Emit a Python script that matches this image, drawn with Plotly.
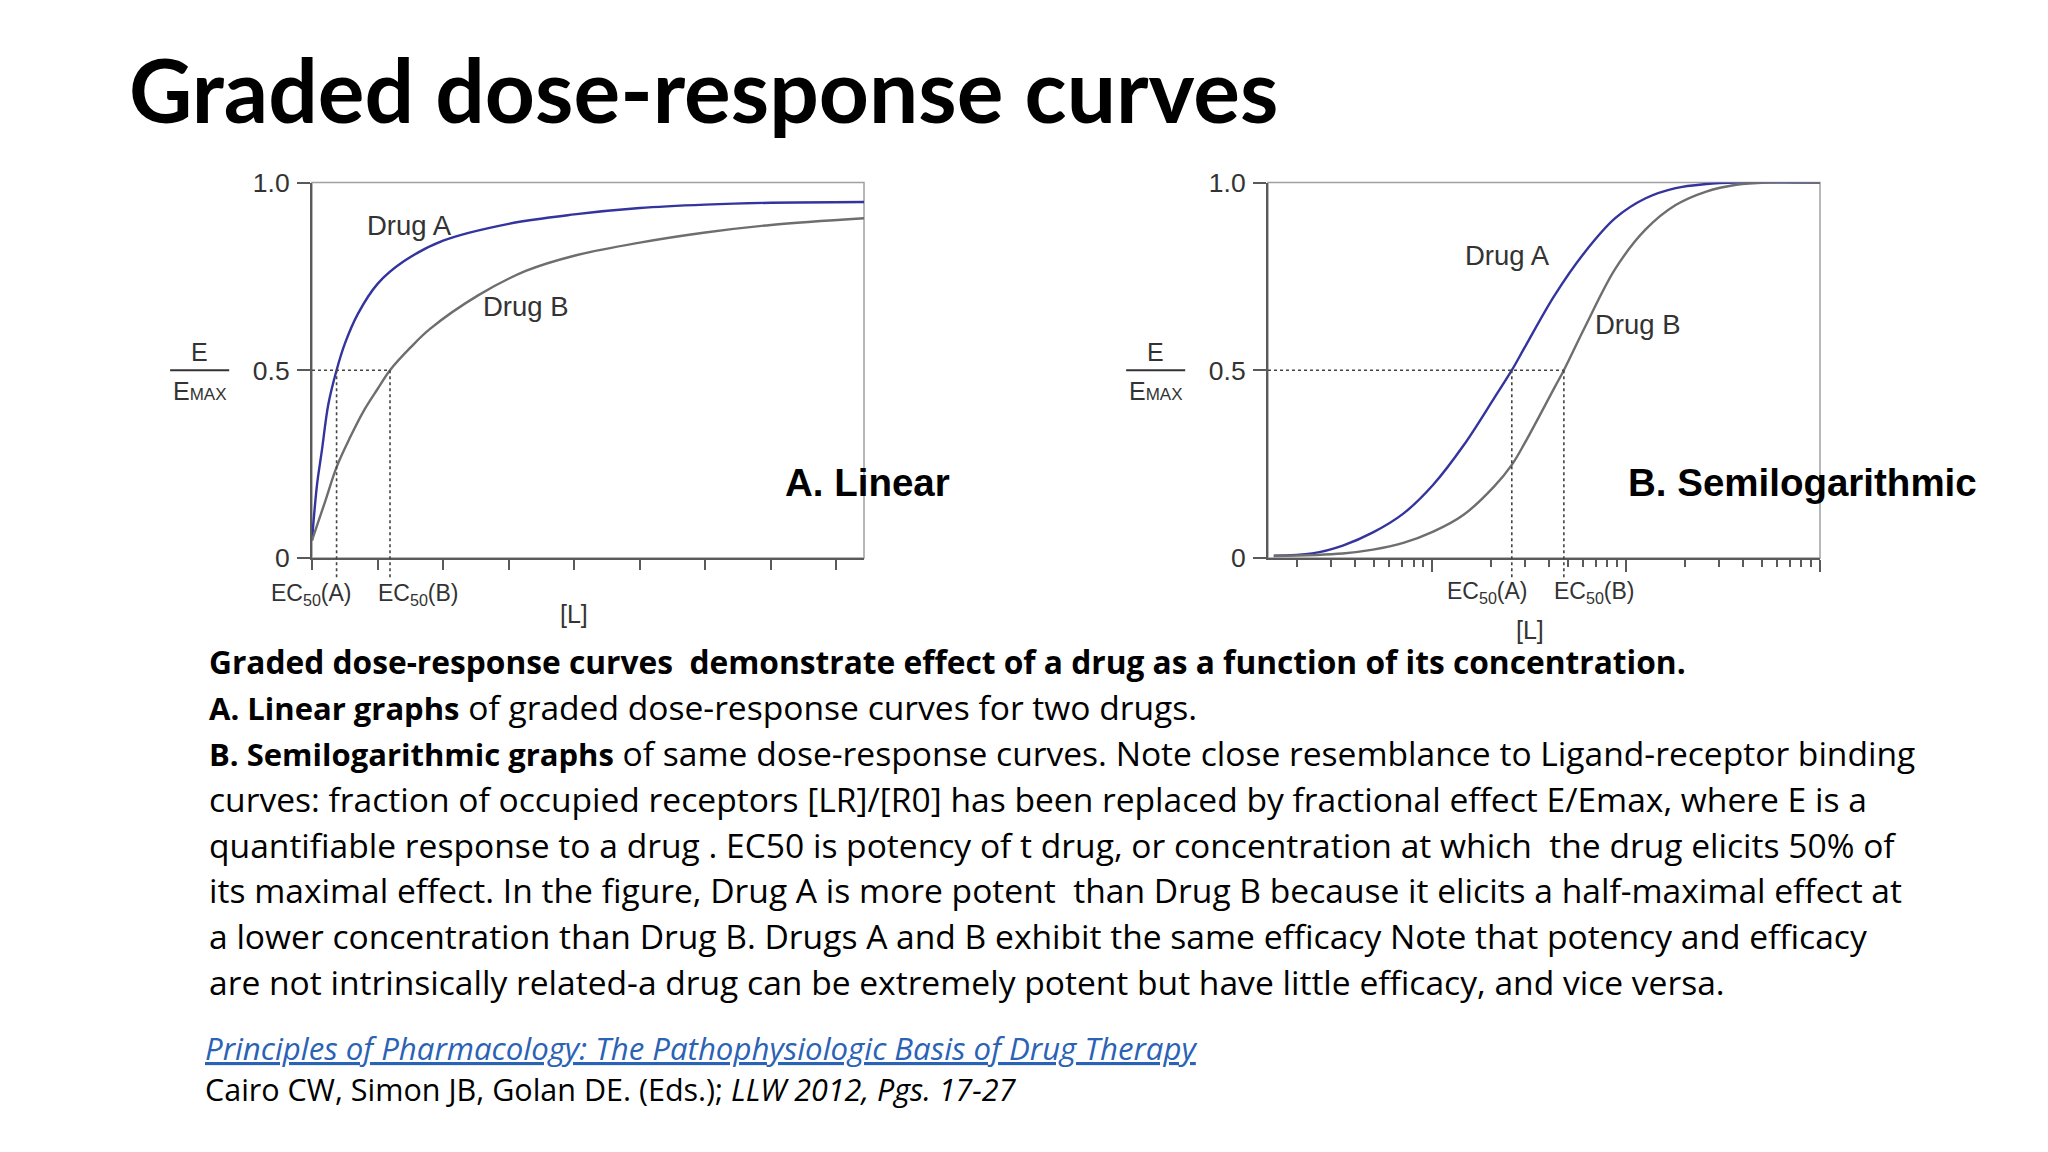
import plotly.graph_objects as go
import numpy as np

# ---------------- data ----------------
# Panel A: linear concentration axis
lin_conc_A = [0, 0.04, 0.08, 0.15, 0.25, 0.375, 0.5, 0.7, 1.0, 1.4, 2.0, 3.0, 4.0, 5.0, 6.0, 7.0, 8.42]
lin_resp_A = [0.047, 0.13, 0.20, 0.285, 0.41, 0.5, 0.57, 0.65, 0.73, 0.79, 0.845, 0.89, 0.915, 0.932, 0.941, 0.946, 0.948]
lin_conc_B = [0, 0.2, 0.375, 0.578, 0.8, 1.0, 1.19, 1.5, 1.8, 2.54, 3.27, 4.0, 5.0, 6.0, 7.0, 8.42]
lin_resp_B = [0.047, 0.15, 0.242, 0.32, 0.395, 0.45, 0.5, 0.56, 0.61, 0.70, 0.765, 0.805, 0.84, 0.867, 0.887, 0.905]
lin_ec50 = {"A": 0.375, "B": 1.19}
lin_xticks = [0, 1, 2, 3, 4, 5, 6, 7, 8]
lin_xrange = [0, 8.42]

# Panel B: semilogarithmic concentration axis
log_conc_A = [0.152, 0.240, 0.345, 0.494, 0.708, 1.01, 1.45, 2.08, 2.57, 2.99, 4.28, 6.13, 8.78, 12.6, 18.0, 25.9, 37.0, 100]
log_resp_A = [0.006, 0.012, 0.033, 0.068, 0.118, 0.195, 0.30, 0.425, 0.5, 0.56, 0.70, 0.815, 0.905, 0.958, 0.985, 0.996, 1.0, 1.0]
log_conc_B = [0.152, 0.345, 0.494, 0.708, 1.01, 1.45, 2.08, 2.57, 2.99, 4.28, 4.77, 6.13, 8.78, 12.6, 18.0, 25.9, 37.0, 53.1, 100]
log_resp_B = [0.005, 0.012, 0.022, 0.04, 0.07, 0.115, 0.19, 0.248, 0.305, 0.455, 0.5, 0.615, 0.77, 0.875, 0.94, 0.976, 0.994, 1.0, 1.0]
log_ec50 = {"A": 2.57, "B": 4.77}
log_major = [1, 10, 100]
log_minor = [0.2, 0.3, 0.4, 0.5, 0.6, 0.7, 0.8, 0.9,
             2, 3, 4, 5, 6, 7, 8, 9,
             20, 30, 40, 50, 60, 70, 80, 90]
log_xrange = [-0.848, 2.0]   # log10 units

y_ticks = [0, 0.5, 1.0]
y_ticktext = ["0", "0.5", "1.0"]
HALF = 0.5

title_text = "Graded dose-response curves"
BOLD = "<span style='font-size:31px'><b>{}</b></span>"
body_lines = [
    "<b>Graded dose-response curves  demonstrate effect of a drug as a function of its concentration.</b>",
    BOLD.format("A. Linear graphs") + " of graded dose-response curves for two drugs.",
    BOLD.format("B. Semilogarithmic graphs") + " of same dose-response curves. Note close resemblance to Ligand-receptor binding",
    "curves: fraction of occupied receptors [LR]/[R0] has been replaced by fractional effect E/Emax, where E is a",
    "quantifiable response to a drug . EC50 is potency of t drug, or concentration at which  the drug elicits 50% of",
    "its maximal effect. In the figure, Drug A is more potent  than Drug B because it elicits a half-maximal effect at",
    "a lower concentration than Drug B. Drugs A and B exhibit the same efficacy Note that potency and efficacy",
    "are not intrinsically related-a drug can be extremely potent but have little efficacy, and vice versa.",
]
body_sizes = [31.7, 33.6, 33.6, 33.6, 33.6, 33.6, 33.6, 33.6]
cite_link = "Principles of Pharmacology: The Pathophysiologic Basis of Drug Therapy"
cite_ref = "Cairo CW, Simon JB, Golan DE. (Eds.); <i>LLW 2012, Pgs. 17-27</i>"

# ---------------- styles ----------------
W, H = 2048, 1152
BLUE = "#33349e"
GRAY = "#6e6e6e"
AXC = "#5a5a5a"
BOX = "#a0a0a0"
TXT = "#333333"
GFONT = "Liberation Sans, Arial, sans-serif"
TFONT = "Lato, sans-serif"
BFONT = "Open Sans, sans-serif"

ydom = [0.5161, 0.8507]
xdomA = [0.15234, 0.42188]
xdomB = [0.61914, 0.88867]

fig = go.Figure()

for xs, ys, col, xa, ya in [(lin_conc_A, lin_resp_A, BLUE, "x", "y"), (lin_conc_B, lin_resp_B, GRAY, "x", "y"),
                            (log_conc_A, log_resp_A, BLUE, "x2", "y2"), (log_conc_B, log_resp_B, GRAY, "x2", "y2")]:
    fig.add_trace(go.Scatter(x=xs, y=ys, mode="lines", line=dict(color=col, width=2.4, shape="spline", smoothing=1.0),
                             xaxis=xa, yaxis=ya, hoverinfo="skip"))

yax = dict(range=[0, 1], domain=ydom, tickvals=y_ticks, ticktext=y_ticktext, ticks="outside", ticklen=13,
           tickwidth=2, tickcolor=AXC, showline=True, linecolor=AXC, linewidth=2, showgrid=False, zeroline=False,
           tickfont=dict(family=GFONT, size=26.5, color=TXT), ticklabelstandoff=2, fixedrange=True)

fig.update_layout(
    width=W, height=H, margin=dict(l=0, r=0, t=0, b=0),
    paper_bgcolor="white", plot_bgcolor="white", showlegend=False,
    xaxis=dict(domain=xdomA, range=lin_xrange, anchor="y", tickvals=lin_xticks, showticklabels=False,
               ticks="outside", ticklen=10, tickwidth=2, tickcolor=AXC, showline=True, linecolor=AXC,
               linewidth=2, showgrid=False, zeroline=False, fixedrange=True),
    yaxis=dict(anchor="x", **yax),
    xaxis2=dict(domain=xdomB, type="log", range=log_xrange, anchor="y2", tickvals=log_major,
                showticklabels=False, ticks="outside", ticklen=12, tickwidth=2, tickcolor=AXC,
                minor=dict(tickvals=log_minor, ticks="outside", ticklen=7, tickwidth=1.6, tickcolor=AXC, showgrid=False),
                showline=True, linecolor=AXC, linewidth=2, showgrid=False, zeroline=False, fixedrange=True),
    yaxis2=dict(anchor="x2", **yax),
)

shapes = []
anns = []
for xa, ya, ec, xstart in [("x", "y", lin_ec50, lin_xrange[0]), ("x2", "y2", log_ec50, 10 ** log_xrange[0])]:
    shapes.append(dict(type="rect", xref=xa + " domain", yref=ya + " domain", x0=0, x1=1, y0=0, y1=1,
                       line=dict(color=BOX, width=1.5), layer="below"))
    shapes.append(dict(type="line", xref=xa, yref=ya, x0=xstart, x1=ec["B"], y0=HALF, y1=HALF,
                       line=dict(color="#444", width=1.6, dash="dot")))
    for k in ("A", "B"):
        shapes.append(dict(type="line", xref=xa, yref=ya + " domain", x0=ec[k], x1=ec[k], y0=HALF, y1=-0.054,
                           line=dict(color="#444", width=1.6, dash="dot")))
    shapes.append(dict(type="line", xref=xa + " domain", yref=ya, x0=-0.257, x1=-0.150, y0=HALF, y1=HALF,
                       line=dict(color=TXT, width=2)))
    anns.append(dict(xref=xa + " domain", yref=ya, x=-0.203, y=0.549, xanchor="center", yanchor="middle",
                     text="E", showarrow=False, font=dict(family=GFONT, size=25, color=TXT)))
    anns.append(dict(xref=xa + " domain", yref=ya, x=-0.203, y=0.4455, xanchor="center", yanchor="middle",
                     text="E<span style='font-size:17px'>MAX</span>", showarrow=False,
                     font=dict(family=GFONT, size=25, color=TXT)))

def lx(v, log):
    return float(np.log10(v)) if log else v

for xa, ya, log, la, lb, lbl_x, L_x, L_y, ec_y in [
    ("x", "y", False, (1.49, 0.885), (3.26, 0.670), (0.0, 1.63), 4.0, 0.4661, 0.4835),
    ("x2", "y2", True, (2.45, 0.806), (11.5, 0.621), (1.92, 6.86), 3.2, 0.4515, 0.4852),
]:
    common = dict(showarrow=False, xanchor="center", yanchor="middle")
    anns.append(dict(xref=xa, yref=ya, x=lx(la[0], log), y=la[1], text="Drug A",
                     font=dict(family=GFONT, size=27.5, color=TXT), **common))
    anns.append(dict(xref=xa, yref=ya, x=lx(lb[0], log), y=lb[1], text="Drug B",
                     font=dict(family=GFONT, size=27.5, color=TXT), **common))
    anns.append(dict(xref=xa, yref="paper", x=lx(lbl_x[0], log), y=ec_y, text="EC<sub>50</sub>(A)",
                     font=dict(family=GFONT, size=23, color=TXT), **common))
    anns.append(dict(xref=xa, yref="paper", x=lx(lbl_x[1], log), y=ec_y, text="EC<sub>50</sub>(B)",
                     font=dict(family=GFONT, size=23, color=TXT), **common))
    anns.append(dict(xref=xa, yref="paper", x=lx(L_x, log), y=L_y, text="[L]",
                     font=dict(family=GFONT, size=25, color=TXT), **common))

anns.append(dict(xref="paper", yref="paper", x=0.4238, y=0.5833, xanchor="center", yanchor="middle",
                 text="<b>A. Linear</b>", showarrow=False, font=dict(family=GFONT, size=38.5, color="black")))
anns.append(dict(xref="paper", yref="paper", x=0.8801, y=0.5833, xanchor="center", yanchor="middle",
                 text="<b>B. Semilogarithmic</b>", showarrow=False, font=dict(family=GFONT, size=38.5, color="black")))

anns.append(dict(xref="paper", yref="paper", x=127 / W, y=1 - 76 / H, xanchor="left", yanchor="middle",
                 text="<b>" + title_text + "</b>", showarrow=False, font=dict(family=TFONT, size=87.4, color="black")))

for i, (line, sz) in enumerate(zip(body_lines, body_sizes)):
    anns.append(dict(xref="paper", yref="paper", x=207 / W, y=1 - (663.7 + 47.0 * i) / H, xanchor="left", yanchor="middle",
                     text=line, showarrow=False, font=dict(family=BFONT, size=sz, color="black")))

anns.append(dict(xref="paper", yref="paper", x=203 / W, y=1 - 1061 / H, xanchor="left", yanchor="middle",
                 text="<i><u>" + cite_link + "</u></i>", showarrow=False, font=dict(family=BFONT, size=31.2, color="#2a62b5")))
anns.append(dict(xref="paper", yref="paper", x=203 / W, y=1 - 1103 / H, xanchor="left", yanchor="middle",
                 text=cite_ref, showarrow=False, font=dict(family=BFONT, size=30.5, color="black")))

fig.update_layout(shapes=shapes, annotations=anns)
fig.write_html("out.html", config={"displayModeBar": False},
               post_script="document.body.style.margin='0';")
